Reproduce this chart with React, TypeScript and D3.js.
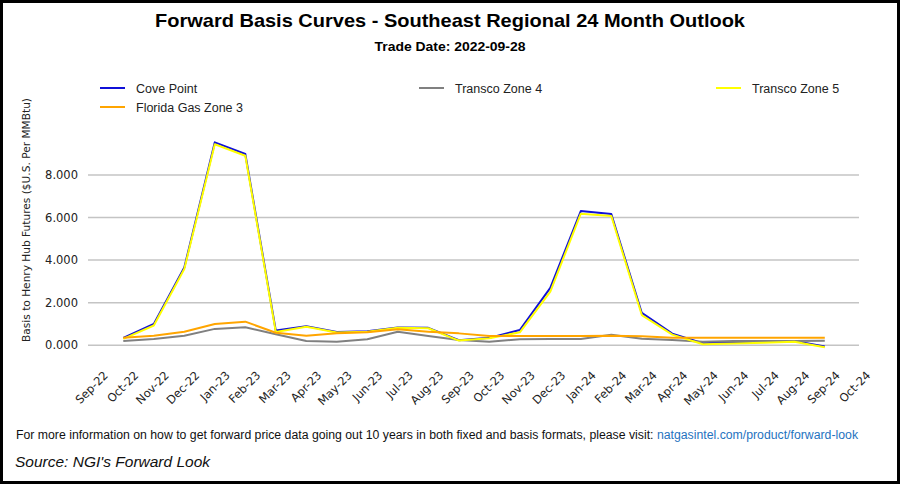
import React from "react";
import * as d3 from "d3";

// axis categories (first and last label carry no data)
const months = [
  "Sep-22", "Oct-22", "Nov-22", "Dec-22", "Jan-23", "Feb-23", "Mar-23", "Apr-23", "May-23",
  "Jun-23", "Jul-23", "Aug-23", "Sep-23", "Oct-23", "Nov-23", "Dec-23", "Jan-24", "Feb-24",
  "Mar-24", "Apr-24", "May-24", "Jun-24", "Jul-24", "Aug-24", "Sep-24", "Oct-24",
];

// contract months with prices: Oct-22 .. Sep-24
const contracts = months.slice(1, 25);

const covePoint = [
  0.35, 1.0, 3.65, 9.53, 8.98, 0.69, 0.9, 0.62, 0.66, 0.84, 0.82, 0.24,
  0.35, 0.72, 2.7, 6.3, 6.16, 1.52, 0.55, 0.1, 0.14, 0.16, 0.2, -0.05,
];
const transcoZone4 = [
  0.2, 0.3, 0.45, 0.77, 0.85, 0.52, 0.2, 0.17, 0.28, 0.64, 0.44, 0.25,
  0.17, 0.28, 0.3, 0.3, 0.5, 0.31, 0.25, 0.17, 0.2, 0.2, 0.2, 0.21,
];
const transcoZone5 = [
  0.3, 0.93, 3.58, 9.44, 8.9, 0.62, 0.87, 0.6, 0.64, 0.82, 0.8, 0.22,
  0.33, 0.61, 2.52, 6.18, 6.07, 1.42, 0.5, 0.05, 0.09, 0.12, 0.17, -0.09,
];
const floridaGasZone3 = [
  0.36, 0.45, 0.64, 1.0, 1.11, 0.59, 0.45, 0.56, 0.61, 0.75, 0.64, 0.56,
  0.44, 0.44, 0.44, 0.44, 0.45, 0.42, 0.36, 0.36, 0.36, 0.36, 0.36, 0.36,
];

const yTicks = [0, 2, 4, 6, 8];

const series = [
  { name: "Cove Point", values: covePoint, color: "#1010d8" },
  { name: "Transco Zone 4", values: transcoZone4, color: "#808080" },
  { name: "Transco Zone 5", values: transcoZone5, color: "#ffff00" },
  { name: "Florida Gas Zone 3", values: floridaGasZone3, color: "#ffa500" },
];

const W = 900;
const H = 490;

export default function App() {
  const x = d3.scalePoint<string>().domain(months).range([92.8, 855.3]);
  const y = d3.scaleLinear().domain([0, 8]).range([345.3, 174.9]);
  const fmt = d3.format(".3f");

  const line = d3
    .line<number>()
    .x((_, i) => x(contracts[i]) as number)
    .y((d) => y(d));

  const legendPos = [
    { lx: 100, ly: 88 },
    { lx: 419, ly: 88 },
    { lx: 716, ly: 88 },
    { lx: 100, ly: 107 },
  ];

  const axisFont = "DejaVu Sans, sans-serif";
  const arial = "Liberation Sans, Arial, sans-serif";

  return (
    <svg
      width={W}
      height={H}
      style={{ position: "absolute", left: 0, top: 0, background: "#fff" }}
    >
      <rect x={0} y={0} width={W} height={H} fill="#fff" />
      <rect x={1.5} y={1.5} width={897} height={481} fill="none" stroke="#000" strokeWidth={3} />

      <text
        x={450}
        y={27}
        textAnchor="middle"
        fontFamily={arial}
        fontWeight="bold"
        fontSize={19}
        textLength={590}
        lengthAdjust="spacingAndGlyphs"
      >
        Forward Basis Curves - Southeast Regional 24 Month Outlook
      </text>
      <text
        x={450}
        y={51}
        textAnchor="middle"
        fontFamily={arial}
        fontWeight="bold"
        fontSize={12}
        textLength={151}
        lengthAdjust="spacingAndGlyphs"
      >
        Trade Date: 2022-09-28
      </text>

      {/* legend */}
      {series.map((s, i) => (
        <g key={s.name} transform={`translate(${legendPos[i].lx},${legendPos[i].ly})`}>
          <line x1={0} x2={25} y1={0} y2={0} stroke={s.color} strokeWidth={2} />
          <text x={36} y={4.5} fontFamily={arial} fontSize={12.5} fill="#222">
            {s.name}
          </text>
        </g>
      ))}

      {/* gridlines and y ticks */}
      {yTicks.map((t) => (
        <g key={t}>
          <line x1={88} x2={859} y1={y(t)} y2={y(t)} stroke="#c4c4c4" strokeWidth={1.5} />
          <text
            x={78}
            y={y(t) + 4}
            textAnchor="end"
            fontFamily={axisFont}
            fontSize={11.5}
            fill="#222"
          >
            {fmt(t)}
          </text>
        </g>
      ))}

      <text
        transform="translate(30,220) rotate(-90)"
        textAnchor="middle"
        fontFamily={axisFont}
        fontSize={10.6}
        fill="#222"
      >
        Basis to Henry Hub Futures ($U.S. Per MMBtu)
      </text>

      {/* x labels */}
      {months.map((m) => (
        <text
          key={m}
          transform={`translate(${(x(m) as number) + 16},376) rotate(-45)`}
          textAnchor="end"
          fontFamily={axisFont}
          fontSize={11.5}
          fill="#222"
        >
          {m}
        </text>
      ))}

      {/* series lines */}
      {series.map((s) => (
        <path
          key={s.name}
          d={line(s.values) as string}
          fill="none"
          stroke={s.color}
          strokeWidth={2}
          strokeLinejoin="round"
        />
      ))}

      <text x={16} y={439} fontFamily={arial} fontSize={12.28} fill="#111">
        For more information on how to get forward price data going out 10 years in both fixed and basis
        formats, please visit:{" "}
        <tspan fill="#1f73c0">natgasintel.com/product/forward-look</tspan>
      </text>
      <text x={15} y={467} fontFamily={arial} fontStyle="italic" fontSize={15.5} fill="#111">
        Source: NGI's Forward Look
      </text>
    </svg>
  );
}
